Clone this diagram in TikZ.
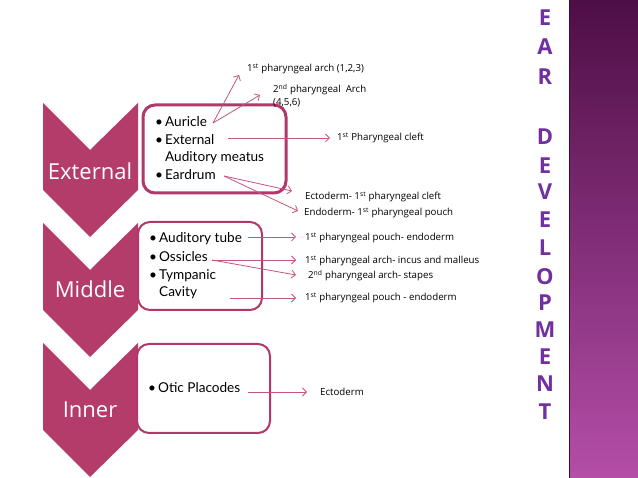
\documentclass[tikz,border=0pt]{standalone}
\usepackage{fontspec}
\setmainfont{Lato}
\newfontfamily\opensans{Open Sans}
\usetikzlibrary{arrows.meta}
\definecolor{chev}{RGB}{180,60,107}
\definecolor{boxc}{RGB}{176,56,106}
\definecolor{arrc}{RGB}{196,84,128}
\definecolor{ltr}{RGB}{112,48,160}
\definecolor{stripTop}{RGB}{78,14,70}
\definecolor{stripBot}{RGB}{180,78,168}
\tikzset{
  chevshape/.style={fill=chev},
  chevlabel/.style={text=white, font=\opensans\fontsize{22}{26}\selectfont, anchor=base},
  itembox/.style={draw=boxc, line width=2pt, rounded corners=12pt, fill=white},
  itemtext/.style={anchor=base west, inner sep=0pt, font=\fontsize{13.6}{17}\selectfont},
  small/.style={anchor=base west, inner sep=0pt, font=\opensans\fontsize{9.7}{11}\selectfont},
  arr/.style={draw=arrc, line width=0.8pt, -{Straight Barb[length=4pt,width=8pt]}},
  letter/.style={text=ltr, font=\opensans\fontsize{22}{22}\bfseries\selectfont},
}
\newcommand{\bul}{\makebox[10pt][l]{\textbullet}}
\newcommand{\sups}[1]{\textsuperscript{#1}}
\begin{document}
\begin{tikzpicture}[x=1pt,y=-1pt]
\useasboundingbox (0,0) rectangle (638,478);
\fill[white] (0,0) rectangle (638,478);
% right strip
\shade[top color=stripTop, bottom color=stripBot] (569,0) rectangle (638,478);
\draw[stripTop!80!black, line width=1.5pt] (569.5,0) -- (569.5,478);

% chevrons
\fill[chevshape] (43,103) -- (90,150) -- (138,103) -- (138,190) -- (90,237) -- (43,190) -- cycle;
\fill[chevshape] (43,223) -- (90,270) -- (138,223) -- (138,310) -- (90,357) -- (43,310) -- cycle;
\fill[chevshape] (43,343) -- (90,390) -- (138,343) -- (138,430) -- (90,477) -- (43,430) -- cycle;
\node[chevlabel] (ext) at (90,180) {External};
\node[chevlabel] (mid) at (90,298) {Middle};
\node[chevlabel] (inn) at (90,418) {Inner};

% boxes
\draw[itembox, line width=3pt] (143,105) rectangle (286,193);
\draw[itembox] (138,222) rectangle (262,310);
\draw[itembox] (137,344) rectangle (270,433);

% external items
\node[itemtext] (auricle) at (155,127) {\bul Auricle};
\node[itemtext] (external) at (155,145) {\bul External};
\node[itemtext] (meatus) at (165,162) {Auditory meatus};
\node[itemtext] (eardrum) at (155,180) {\bul Eardrum};
% middle items
\node[itemtext] (tube) at (149,243) {\bul Auditory tube};
\node[itemtext] (ossicles) at (149,262) {\bul Ossicles};
\node[itemtext] (tympanic) at (149,280) {\bul Tympanic};
\node[itemtext] (cavity) at (159,297) {Cavity};
% inner items
\node[itemtext] (otic) at (148,393) {\bul Otic Placodes};

% small labels
\node[small] (l1) at (247,72) {1\sups{st} pharyngeal arch (1,2,3)};
\node[small] (l2) at (273,93) {2\sups{nd} pharyngeal\ \ Arch};
\node[small] (l2b) at (273,106) {(4,5,6)};
\node[small] (l3) at (337,141) {1\sups{st} Pharyngeal cleft};
\node[small] (l4) at (305,200) {Ectoderm- 1\sups{st} pharyngeal cleft};
\node[small] (l5) at (304,216) {Endoderm- 1\sups{st} pharyngeal pouch};
\node[small] (l6) at (305,241) {1\sups{st} pharyngeal pouch- endoderm};
\node[small] (l7) at (305,264) {1\sups{st} pharyngeal arch- incus and malleus};
\node[small] (l8) at (308,279) {2\sups{nd} pharyngeal arch- stapes};
\node[small] (l9) at (305,301) {1\sups{st} pharyngeal pouch - endoderm};
\node[small] (l10) at (320,396) {Ectoderm};

% arrow coordinates
\coordinate (sA) at (213,123);
\coordinate (tA1) at (239,75);
\coordinate (tA2) at (260,95);
\coordinate (sE) at (228,138);
\coordinate (tE) at (330,138);
\coordinate (sD) at (224,176);
\coordinate (tD1) at (292,191);
\coordinate (tD2) at (298,211);
\coordinate (sT) at (248,237);
\coordinate (tT) at (296,237);
\coordinate (sO) at (212,260);
\coordinate (tO1) at (296,260);
\coordinate (tO2) at (296,275);
\coordinate (sC) at (230,298);
\coordinate (tC) at (296,298);
\coordinate (sP) at (248,392);
\coordinate (tP) at (307,392);

\draw[arr] (sA) -- (tA1);
\draw[arr] (sA) -- (tA2);
\draw[arr] (sE) -- (tE);
\draw[arr] (sD) -- (tD1);
\draw[arr] (sD) -- (tD2);
\draw[arr] (sT) -- (tT);
\draw[arr] (sO) -- (tO1);
\draw[arr] (sO) -- (tO2);
\draw[arr] (sC) -- (tC);
\draw[arr] (sP) -- (tP);

% vertical title
\foreach \l/\y [count=\i] in {E/18,A/47,R/77,D/137,E/166,V/192,E/220,L/248,O/277,P/303,M/330,E/357,N/384,T/412}
  \node[letter] (L\i) at (545,\y) {\l};
\end{tikzpicture}
\end{document}
